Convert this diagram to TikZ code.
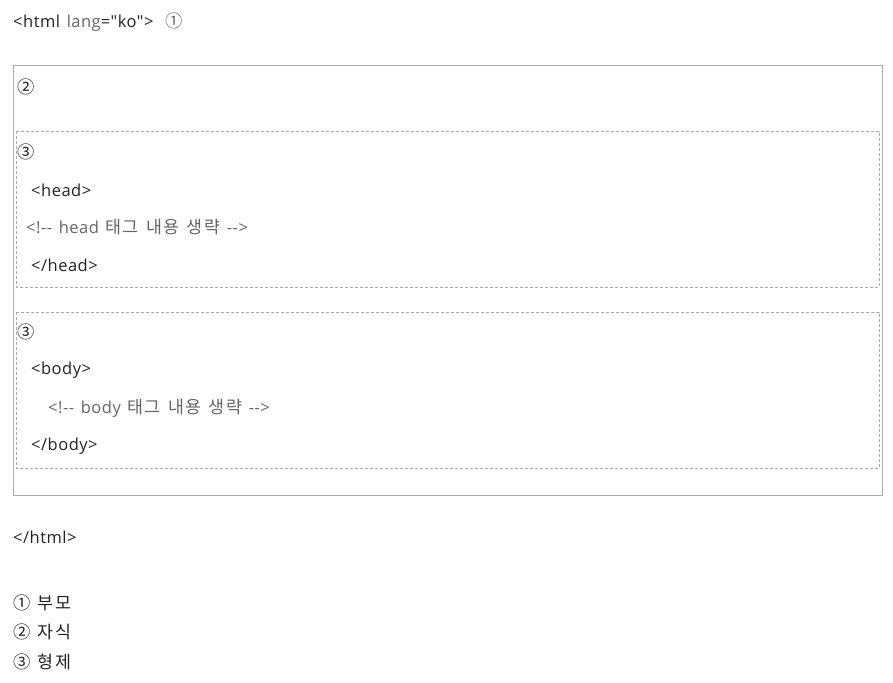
\documentclass[tikz,border=0pt]{standalone}
\usepackage{fontspec}
\newfontfamily\latin{Open Sans}[LetterSpace=3, WordSpace=1.4]
\newfontfamily\kr{Noto Sans CJK KR}[Scale=1.05, LetterSpace=8, WordSpace=1.4]
\usepackage{tikz}
\usetikzlibrary{positioning}
\definecolor{codetext}{RGB}{34, 34, 34}
\definecolor{softgray}{RGB}{100, 100, 100}
\definecolor{framegray}{RGB}{170, 170, 170}

\begin{document}
\begin{tikzpicture}[
    x=1pt, y=-1pt,
    code/.style={anchor=west, inner sep=0pt, text=codetext, font=\latin\fontsize{16.5}{20}\selectfont},
    note/.style={code, text=softgray},
    outerbox/.style={draw=framegray, line width=1pt},
    sibbox/.style={draw=framegray, dashed, line width=0.8pt, dash pattern=on 3pt off 2pt}
]
\useasboundingbox (0,0) rectangle (893,682);

\node[code] (htmlopen) at (13,22) {<html \textcolor{softgray}{lang}="ko">\hspace{12pt}\textcolor{softgray}{\kr ①}};

\draw[outerbox] (13,66) rectangle (882,495);
\node[code] (child) at (17,87) {\kr ②};

\draw[sibbox] (16,131) rectangle (879,287);
\node[code] (sibhead) at (17,152) {\kr ③};
\node[code] (headopen) at (31,190) {<head>};
\node[note] (headnote) at (26,227) {<!-{}- head {\kr 태그 내용 생략} -{}->};
\node[code] (headclose) at (31,265) {</head>};

\draw[sibbox] (16,312) rectangle (879,468);
\node[code] (sibbody) at (17,332) {\kr ③};
\node[code] (bodyopen) at (31,370) {<body>};
\node[note] (bodynote) at (48,408) {<!-{}- body {\kr 태그 내용 생략} -{}->};
\node[code] (bodyclose) at (31,446) {</body>};

\node[code] (htmlclose) at (13,537) {</html>};

\node[code] (legparent) at (13,603) {\kr ① 부모};
\node[code] (legchild) at (13,632) {\kr ② 자식};
\node[code] (legsib) at (13,662) {\kr ③ 형제};

\end{tikzpicture}
\end{document}
